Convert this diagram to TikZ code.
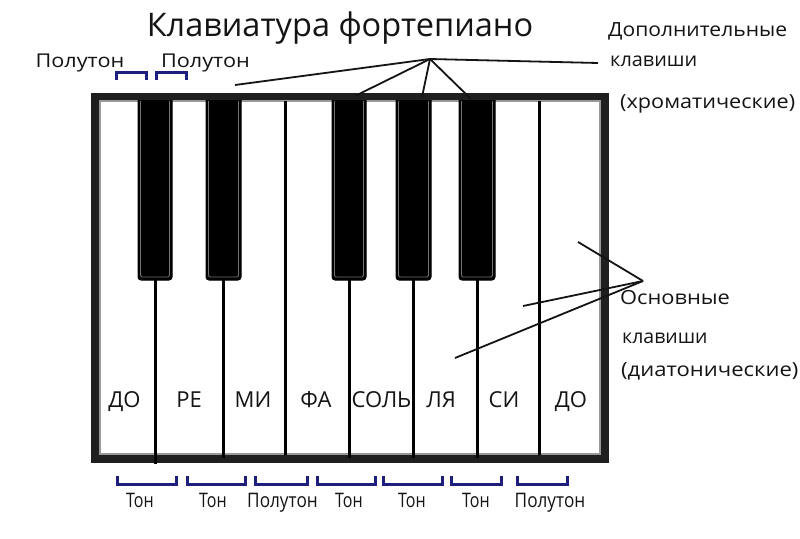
\documentclass[tikz,border=0pt]{standalone}
\usepackage{graphicx}
\usepackage{fontspec}
\setmainfont{Open Sans}
\definecolor{navy}{RGB}{30,30,125}
\definecolor{ink}{RGB}{20,20,20}
\newcommand{\hsx}[2]{\scalebox{#1}[1]{#2}}
\begin{document}
\begin{tikzpicture}[x=1pt,y=-1pt,
  lbl/.style={inner sep=0pt, anchor=base, text=ink, font=\fontsize{19}{22}\selectfont},
  lblw/.style={lbl, anchor=base west, font=\fontsize{19.5}{22}\selectfont},
  bot/.style={lbl, font=\fontsize{20}{22}\selectfont},
  note/.style={lbl, font=\fontsize{22}{24}\selectfont},
  conn/.style={line width=1.8, ink},
  brk/.style={line width=3, navy},
  sep/.style={line width=3, black}]
\useasboundingbox (0,0) rectangle (800,538);
\fill[white] (0,0) rectangle (800,538);
% frame
\fill[white] (95,96.5) rectangle (605,458.5);
\draw[line width=8, black!88] (95,96.5) rectangle (605,458.5);
\draw[line width=1.5, black!40] (99.8,101.2) rectangle (600.2,453.8);
% full dividers
\draw[sep] (285,101) -- (285,455);
\draw[sep] (539,101) -- (539,455);
% dividers under black keys
\foreach \x in {155,223.5,349,413.5,477}
  \draw[sep] (\x,270) -- (\x,458);
\draw[sep] (155,455) -- (155,464);
% black keys
\foreach \l/\r in {138/172, 206/241, 332/366, 396/431, 459/495} {
  \draw[fill=black, line width=1, rounded corners=3] (\l,100) -- (\l,280) -- (\r,280) -- (\r,100);
  \draw[black!55, line width=0.8, rounded corners=2] (\l+2.5,101) -- (\l+2.5,277) -- (\r-2.5,277) -- (\r-2.5,101);
}
% title
\node[lbl, font=\fontsize{32.5}{36}\selectfont] (title) at (340,36.7) {Клавиатура фортепиано};
% top semitone labels
\node[lbl] (pt1) at (80,67) {\hsx{1.14}{Полутон}};
\node[lbl] (pt2) at (205.5,67) {\hsx{1.14}{Полутон}};
\draw[brk] (116.7,80) -- (116.7,72.5) -- (146.7,72.5) -- (146.7,80);
\draw[brk] (156.7,80) -- (156.7,72.5) -- (186.7,72.5) -- (186.7,80);
% right top labels
\node[lblw] (dop) at (608,36) {\hsx{1.08}{Дополнительные}};
\node[lblw] (klav1) at (610,66.7) {\hsx{1.02}{клавиши}};
\node[lblw] (chrom) at (620,108.5) {\hsx{1.11}{(хроматические)}};
% right lower labels
\node[lblw] (osn) at (620,304.3) {\hsx{1.12}{Основные}};
\node[lblw] (klav2) at (622,343) {\hsx{1.0}{клавиши}};
\node[lblw] (diat) at (621,376.7) {\hsx{1.13}{(диатонические)}};
% top connectors
\coordinate (hubA) at (430,59);
\coordinate (eL) at (235,85);
\coordinate (k3) at (355,96);
\coordinate (k4) at (422,97);
\coordinate (k5) at (471,99);
\coordinate (eR) at (598,63);
\draw[conn] (eL) -- (hubA);
\draw[conn] (k3) -- (hubA);
\draw[conn] (k4) -- (hubA);
\draw[conn] (k5) -- (hubA);
\draw[conn] (eR) -- (hubA);
% lower connectors
\coordinate (hubB) at (643,281);
\coordinate (w1) at (578,242);
\coordinate (w2) at (523,306);
\coordinate (w3) at (455,358);
\draw[conn] (w1) -- (hubB);
\draw[conn] (w2) -- (hubB);
\draw[conn] (w3) -- (hubB);
% note names
\node[note] (n1) at (124.5,407.7) {ДО};
\node[note] (n2) at (189,407.7) {РЕ};
\node[note] (n3) at (253,407.7) {МИ};
\node[note] (n4) at (316,407.7) {ФА};
\node[note] (n5) at (381.5,407.7) {СОЛЬ};
\node[note] (n6) at (441,407.7) {ЛЯ};
\node[note] (n7) at (504,407.7) {СИ};
\node[note] (n8) at (571,407.7) {ДО};
% bottom brackets
\foreach \a/\b in {117/176, 187/245, 255/307, 317/375, 383/442, 451/501, 517/567}
  \draw[brk] (\a,476) -- (\a,484) -- (\b,484) -- (\b,476);
% bottom labels
\node[bot] (s1) at (140,507.5) {\hsx{0.8}{Тон}};
\node[bot] (s2) at (213,507.5) {\hsx{0.8}{Тон}};
\node[bot] (s3) at (282.5,507.5) {\hsx{0.86}{Полутон}};
\node[bot] (s4) at (349,507.5) {\hsx{0.8}{Тон}};
\node[bot] (s5) at (412,507.5) {\hsx{0.8}{Тон}};
\node[bot] (s6) at (476,507.5) {\hsx{0.8}{Тон}};
\node[bot] (s7) at (550,507.5) {\hsx{0.86}{Полутон}};
\end{tikzpicture}
\end{document}
